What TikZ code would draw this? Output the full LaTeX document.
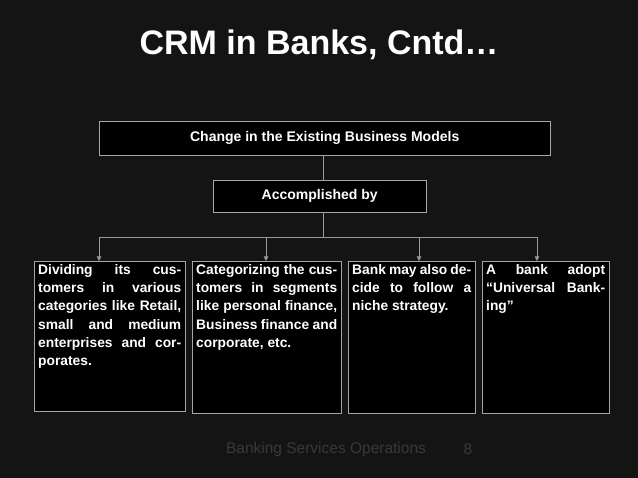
\documentclass[tikz,border=0pt]{standalone}
\usepackage{fontspec}
\setmainfont{Liberation Sans}
\usetikzlibrary{arrows.meta,positioning}
\newcommand\nohy{\hyphenpenalty=10000 \exhyphenpenalty=10000\relax}
\begin{document}
\begin{tikzpicture}[x=1pt,y=-1pt]
\tikzset{
  head box/.style = {draw=gray!70, fill=black, text=white, font=\bfseries\fontsize{14}{16}\selectfont, anchor=north west, inner sep=0},
  leaf box/.style = {draw=gray!70, fill=black, anchor=north west, inner sep=0},
  leaf text/.style = {text=white, anchor=north west, align=justify, inner xsep=4, inner ysep=3,
                     font=\bfseries\fontsize{13.8}{18.3}\selectfont},
  link/.style = {draw=gray!80, line width=0.8},
  down/.style = {link, -{Triangle[width=4.5,length=4.5]}}
}
\fill[black!92] (0,0) rectangle (638,478);
\node[text=white, font=\bfseries\fontsize{34}{36}\selectfont] (title) at (319,45) {CRM in Banks, Cntd…};
\node[head box, minimum width=451, minimum height=34] (change) at (99,121) {Change in the Existing Business Models};
\node[head box, minimum width=213, minimum height=32] (acc) at (213,180) {Accomplished by};
\node[leaf box, minimum width=151, minimum height=150] (b1) at (34,261) {};
\node[leaf box, minimum width=149, minimum height=152] (b2) at (192,261) {};
\node[leaf box, minimum width=127, minimum height=152] (b3) at (348,261) {};
\node[leaf box, minimum width=127, minimum height=152] (b4) at (482,261) {};
\node[leaf text, text width=143] (t1) at (b1.north west) {\nohy Dividing its customers in various categories like Retail, small and medium enterprises and corporates.};
\node[leaf text, text width=141] (t2) at (b2.north west) {\nohy Categorizing the customers in segments like personal finance, Business finance and corporate, etc.};
\node[leaf text, text width=119] (t3) at (b3.north west) {\nohy Bank may also decide to follow a niche strategy.};
\node[leaf text, text width=119] (t4) at (b4.north west) {\nohy A bank adopt “Universal Banking”};
\coordinate (hub) at (323,237);
\draw[link] (change.south -| hub) -- (acc.north -| hub);
\draw[link] (acc.south -| hub) -- (hub);
\draw[link] (99,237) coordinate (l) -- (537,237) coordinate (r);
\foreach \x/\b in {99/b1,266/b2,419/b3,537/b4}
  \draw[down] (\x,237) -- (\x,261);
\node[text=gray!45!black, font=\fontsize{15.5}{17}\selectfont] (foot) at (326,449) {Banking Services Operations};
\node[text=gray!45!black, font=\fontsize{15.5}{17}\selectfont] (page) at (468,449) {8};
\end{tikzpicture}
\end{document}
